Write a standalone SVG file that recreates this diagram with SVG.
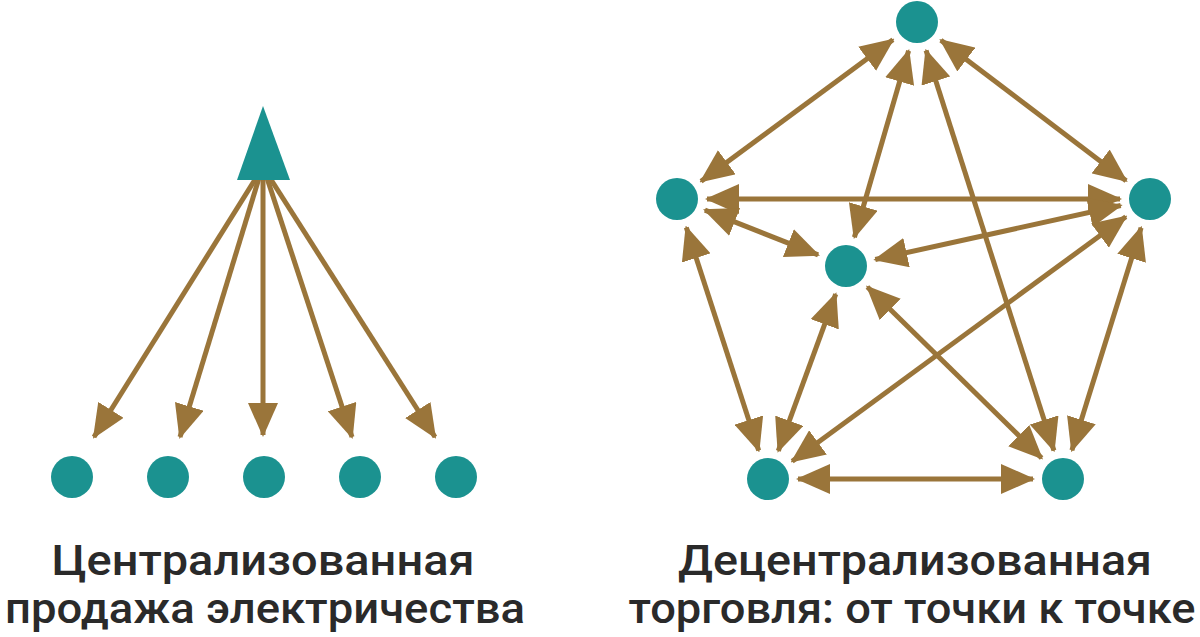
<svg xmlns="http://www.w3.org/2000/svg" width="1200" height="637" viewBox="0 0 1200 637">
<style>
.n{fill:#1b9290}
.e{stroke:#9a753a;stroke-width:5;fill:none;marker-end:url(#ah)}
.b{marker-start:url(#ah)}
.t{font-family:Roboto,"Liberation Sans",sans-serif;font-weight:500;font-size:42px;fill:#2a2a2a;text-anchor:middle}
</style>
<defs>
<marker id="ah" markerUnits="userSpaceOnUse" markerWidth="34" markerHeight="30" refX="32" refY="15" orient="auto-start-reverse" viewBox="0 0 34 30">
<path d="M0,0 L34,15 L0,30 z" fill="#9a753a"/>
</marker>
</defs>
<rect width="1200" height="637" fill="#fff"/>
<g id="connectors">
<line class="e" x1="256" y1="178" x2="94" y2="437"/>
<line class="e" x1="259" y1="178" x2="180" y2="437"/>
<line class="e" x1="263" y1="178" x2="263" y2="435"/>
<line class="e" x1="267" y1="178" x2="352" y2="437"/>
<line class="e" x1="270" y1="178" x2="435" y2="437"/>
<line class="e b" x1="892.9" y1="39.8" x2="701.1" y2="181.2"/>
<line class="e b" x1="940.9" y1="40.2" x2="1126.1" y2="180.8"/>
<line class="e b" x1="908.6" y1="50.8" x2="854.4" y2="237.2"/>
<line class="e b" x1="926.1" y1="50.6" x2="1053.9" y2="450.4"/>
<line class="e b" x1="707" y1="199" x2="1120" y2="199"/>
<line class="e b" x1="704.9" y1="210.1" x2="818.1" y2="254.9"/>
<line class="e b" x1="686.3" y1="227.5" x2="758.7" y2="450.5"/>
<line class="e b" x1="1120.7" y1="205.5" x2="875.3" y2="259.5"/>
<line class="e b" x1="1125.8" y1="216.7" x2="792.2" y2="461.3"/>
<line class="e b" x1="1141.1" y1="227.7" x2="1071.9" y2="450.3"/>
<line class="e b" x1="835.7" y1="294.2" x2="778.3" y2="450.8"/>
<line class="e b" x1="867.4" y1="287" x2="1041.6" y2="458"/>
<line class="e b" x1="798" y1="479" x2="1033" y2="479"/>
</g>
<g id="source"><polygon class="n" points="263,106 290,180 237,180"/></g>
<g id="c1"><circle class="n" cx="72" cy="477" r="21"/></g>
<g id="c2"><circle class="n" cx="168" cy="477" r="21"/></g>
<g id="c3"><circle class="n" cx="264" cy="477" r="21"/></g>
<g id="c4"><circle class="n" cx="360" cy="477" r="21"/></g>
<g id="c5"><circle class="n" cx="456" cy="477" r="21"/></g>
<g id="pT"><circle class="n" cx="917" cy="22" r="21"/></g>
<g id="pL"><circle class="n" cx="677" cy="199" r="21"/></g>
<g id="pR"><circle class="n" cx="1150" cy="199" r="21"/></g>
<g id="pC"><circle class="n" cx="846" cy="266" r="21"/></g>
<g id="pBL"><circle class="n" cx="768" cy="479" r="21"/></g>
<g id="pBR"><circle class="n" cx="1063" cy="479" r="21"/></g>
<g id="labels">
<text class="t" x="263" y="575" textLength="423" lengthAdjust="spacingAndGlyphs">Централизованная</text>
<text class="t" x="265" y="623" textLength="520" lengthAdjust="spacingAndGlyphs">продажа электричества</text>
<text class="t" x="915" y="575" textLength="474" lengthAdjust="spacingAndGlyphs">Децентрализованная</text>
<text class="t" x="912" y="623" textLength="567" lengthAdjust="spacingAndGlyphs">торговля: от точки к точке</text>
</g>
</svg>
